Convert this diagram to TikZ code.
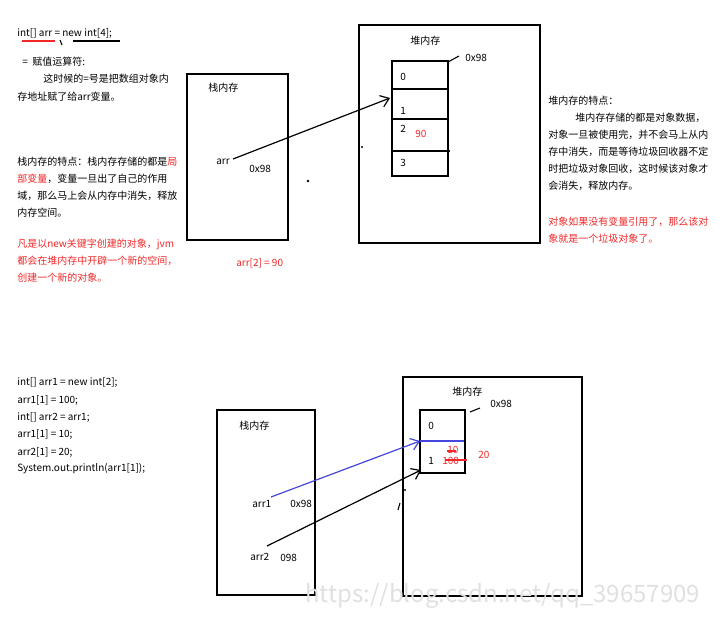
\documentclass[tikz,border=0pt]{standalone}
\usepackage{fontspec}
\setmainfont{Noto Sans CJK SC}
\usetikzlibrary{arrows.meta}
\definecolor{rd}{RGB}{240,40,40}
\definecolor{bl}{RGB}{70,70,220}
\begin{document}
\begin{tikzpicture}[x=0.75pt,y=-0.75pt,
  t/.style={anchor=west,inner sep=0,font=\fontsize{7.5}{9}\selectfont},
  rt/.style={t,text=rd},
  box/.style={draw,line width=0.9pt},
  ar/.style={line width=0.9pt,-{Straight Barb[length=6pt,width=9pt]}}]
\useasboundingbox (0,0) rectangle (725,619);
% top left text
\node[t] (c1) at (17,33) {int[] arr = new int[4];};
\draw[rd,line width=0.8pt] (22,41)--(55,41);
\draw[line width=0.8pt] (60,40)--(62,45);
\draw[line width=0.8pt] (73,41)--(120,41);
\node[t] (e1) at (22,62) {=\ \ 赋值运算符:};
\node[t] (e2) at (43,79) {这时候的=号是把数组对象内};
\node[t] (e3) at (17,97) {存地址赋了给arr变量。};
\node[t] (s1) at (17,162) {栈内存的特点：栈内存存储的都是\textcolor{rd}{局}};
\node[t] (s2) at (17,179) {\textcolor{rd}{部变量}，变量一旦出了自己的作用};
\node[t] (s3) at (17,196) {域，那么马上会从内存中消失，释放};
\node[t] (s4) at (17,213) {内存空间。};
\node[rt] (n1) at (17,244) {凡是以new关键字创建的对象，jvm};
\node[rt] (n2) at (17,261) {都会在堆内存中开辟一个新的空间，};
\node[rt] (n3) at (17,278) {创建一个新的对象。};
% stack 1
\draw[box] (187,74) rectangle (288,240);
\node[t] (st1) at (208,88) {栈内存};
\node[t] (arr) at (216,162) {arr};
\node[t] (a98) at (249,169) {0x98};
\fill (308,181) circle (1pt);
\node[rt] (a290) at (236,263) {arr[2] = 90};
% heap 1
\draw[box] (359,25) rectangle (540,243);
\node[t] (hp1) at (410,41) {堆内存};
\draw[box] (392,61) rectangle (448,176);
\draw[box] (392,89)--(448,89) (392,119)--(448,119) (392,151)--(450,151);
\node[t] (i0) at (400,77) {0};
\node[t] (i1) at (400,111) {1};
\node[t] (i2) at (400,129) {2};
\node[rt] (v90) at (415,134) {90};
\node[t] (i3) at (400,163) {3};
\node[t] (h98) at (465,58) {0x98};
\draw[line width=0.8pt] (448,62)--(459,56);
\fill (362,147) circle (0.8pt);
\coordinate (tgt1) at (390,98);
\draw[ar] (233,159)--(tgt1);
% right text
\node[t] (r0) at (548,101) {堆内存的特点：};
\node[t] (r1) at (575,118) {堆内存存储的都是对象数据，};
\node[t] (r2) at (548,135) {对象一旦被使用完，并不会马上从内};
\node[t] (r3) at (548,152) {存中消失，而是等待垃圾回收器不定};
\node[t] (r4) at (548,169) {时把垃圾对象回收，这时候该对象才};
\node[t] (r5) at (548,186) {会消失，释放内存。};
\node[rt] (r6) at (548,222) {对象如果没有变量引用了，那么该对};
\node[rt] (r7) at (548,239) {象就是一个垃圾对象了。};
% bottom code
\node[t] (b1) at (17,382) {int[] arr1 = new int[2];};
\node[t] (b2) at (17,400) {arr1[1] = 100;};
\node[t] (b3) at (17,417) {int[] arr2 = arr1;};
\node[t] (b4) at (17,434) {arr1[1] = 10;};
\node[t] (b5) at (17,452) {arr2[1] = 20;};
\node[t] (b6) at (17,469) {System.out.println(arr1[1]);};
% stack 2
\draw[box] (217,410) rectangle (315,595);
\node[t] (st2) at (239,426) {栈内存};
\node[t] (arr1) at (252,504) {arr1};
\node[t] (b98) at (290,504) {0x98};
\node[t] (arr2) at (250,557) {arr2};
\node[t] (c98) at (280,558) {098};
% heap 2
\draw[box] (403,377) rectangle (582,596);
\node[t] (hp2) at (452,392) {堆内存};
\node[t] (d98) at (490,404) {0x98};
\draw[line width=0.8pt] (470,412)--(480,408);
\draw[box] (420,410) rectangle (465,473);
\draw[bl,line width=0.8pt] (420,441)--(464,441);
\node[t] (j0) at (428,426) {0};
\node[t] (j1) at (428,461) {1};
\node[rt] (v10) at (447,450) {10};
\node[rt] (v100) at (442,461) {100};
\draw[rd,line width=0.8pt] (447,451)--(456,451) (445,460)--(467,460);
\node[rt] (v20) at (478,455) {20};
\fill (405,490) circle (0.8pt);
\draw[line width=0.8pt] (398,510)--(400,503);
\coordinate (tgt2) at (420,441);
\coordinate (tgt3) at (421,470);
\draw[ar,bl] (271,497)--(tgt2);
\draw[ar] (267,546)--(tgt3);
% watermark
\node[anchor=west,inner sep=0,text=black!12,font=\fontsize{18}{20}\selectfont] (wm) at (305,596) {https://blog.csdn.net/qq\_39657909};
\end{tikzpicture}
\end{document}
